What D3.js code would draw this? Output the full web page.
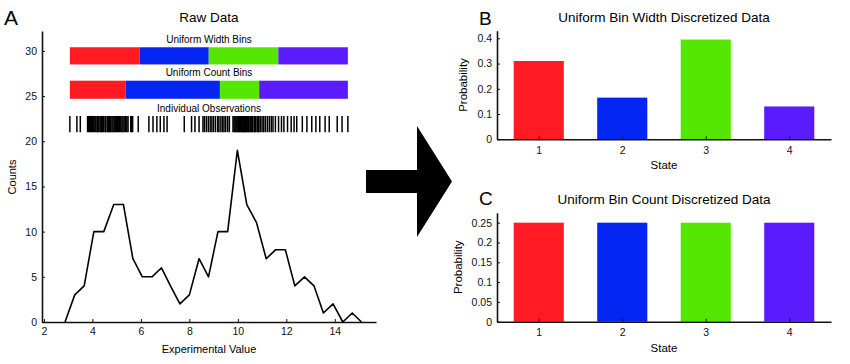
<!DOCTYPE html>
<html>
<head>
<meta charset="utf-8">
<script src="https://cdn.jsdelivr.net/npm/d3@7"></script>
<style>
  body { margin: 0; background: #fff; }
  svg { display: block; font-family: "Liberation Sans", Arial, sans-serif; }
  .axis path, .axis line { stroke: #111; }
  .axis text { fill: #111; font-size: 10.5px; }
</style>
</head>
<body>
<svg class="target"></svg>
<script>
// histogram of the raw data (bin centre, count)
const binCenters = [2.87, 3.27, 3.66, 4.06, 4.47, 4.88, 5.28, 5.67, 6.06, 6.46, 6.85, 7.22,
    7.61, 8.0, 8.4, 8.79, 9.18, 9.58, 9.98, 10.37, 10.77, 11.17, 11.56, 11.96,
    12.35, 12.75, 13.14, 13.53, 13.93, 14.33, 14.72, 15.1];
const counts = [0, 3, 4, 10, 10, 13, 13, 7, 5, 5, 6, 4,
    2, 3, 7, 5, 10, 10, 19, 13, 11, 7, 8, 8,
    4, 5, 4, 1, 2, 0, 1, 0];

// individual observations
const observations = [3.07, 3.36, 3.50,
    3.80, 3.84, 3.88, 3.93, 3.97, 4.01, 4.04, 4.10, 4.14, 4.19, 4.22, 4.25, 4.31, 4.35,
    4.38, 4.41, 4.46, 4.52, 4.55, 4.61, 4.66, 4.70, 4.73, 4.76, 4.81, 4.85, 4.90, 4.94,
    4.99, 5.03, 5.08, 5.12, 5.17, 5.22, 5.26, 5.31, 5.37, 5.42, 5.47, 5.58, 5.62, 5.66, 5.89,
    6.33, 6.50, 6.66, 6.80, 6.95, 7.08,
    7.79, 8.09, 8.23, 8.40,
    8.56, 8.62, 8.70, 8.78, 8.86, 8.93, 9.00, 9.08, 9.17, 9.22, 9.30, 9.37, 9.43, 9.50,
    9.58, 9.65, 9.80, 9.84, 9.88, 9.92, 9.96, 10.0, 10.03, 10.06, 10.10, 10.14, 10.18,
    10.22, 10.25, 10.27, 10.31, 10.34, 10.36, 10.41, 10.44, 10.46, 10.51, 10.56, 10.59,
    10.62, 10.68, 10.71, 10.74, 10.80, 10.84, 10.87, 10.93, 11.00, 11.07, 11.14, 11.22,
    11.30, 11.38, 11.45,
    11.55, 11.68, 11.80, 11.90, 12.05, 12.20, 12.32, 12.43,
    12.66, 12.85, 13.05, 13.22, 13.38, 13.60, 13.77, 14.10, 14.30, 14.54];

// bin edges
const widthEdges = [3.07, 5.94, 8.80, 11.67, 14.54];
const countEdges = [3.07, 5.37, 9.26, 10.88, 14.54];

// discretized probabilities
const states = [1, 2, 3, 4];
const widthProbs = [0.31, 0.165, 0.395, 0.13];
const countProbs = [0.25, 0.25, 0.25, 0.25];
const stateColors = ["#ff1a24", "#0526f2", "#55e600", "#5a1cff"];

const xTicksA = [2, 4, 6, 8, 10, 12, 14];
const yTicksA = [0, 5, 10, 15, 20, 25, 30];
const yTicksB = [0, 0.1, 0.2, 0.3, 0.4];
const yTicksC = [0, 0.05, 0.1, 0.15, 0.2, 0.25];

document.addEventListener("DOMContentLoaded", function() {
    drawFigure();
});

function styleAxis(g) {
    g.selectAll("path").attr("stroke-width", 1.6);
    g.selectAll("line").attr("stroke-width", 1);
}

function drawFigure() {
    const width = 850;
    const height = 364;
    const svg = d3.select(".target")
        .attr("width", width)
        .attr("height", height);

    svg.append("rect").attr("width", width).attr("height", height).attr("fill", "#fff");

    // ---------- panel A ----------
    const xA = d3.scaleLinear().domain([1.92, 15.7]).range([42, 376]);
    const yA = d3.scaleLinear().domain([0, 32.2]).range([322, 31]);

    svg.append("text").attr("x", 4).attr("y", 25).attr("font-size", 21).text("A");
    svg.append("text").attr("x", 209).attr("y", 22).attr("font-size", 13.5)
        .attr("text-anchor", "middle").text("Raw Data");

    svg.append("g").attr("class", "axis")
        .attr("transform", "translate(0," + yA(0) + ")")
        .call(d3.axisBottom(xA).tickValues(xTicksA).tickSizeInner(-3).tickSizeOuter(0).tickPadding(6))
        .call(styleAxis);
    svg.append("g").attr("class", "axis")
        .attr("transform", "translate(" + xA.range()[0] + ",0)")
        .call(d3.axisLeft(yA).tickValues(yTicksA).tickSizeInner(-3).tickSizeOuter(0).tickPadding(5))
        .call(styleAxis);

    svg.append("text").attr("font-size", 11).attr("text-anchor", "middle")
        .attr("transform", "translate(16,177) rotate(-90)").text("Counts");
    svg.append("text").attr("x", 209).attr("y", 353).attr("font-size", 11)
        .attr("text-anchor", "middle").text("Experimental Value");

    // coloured bin strips
    const strips = [
        {label: "Uniform Width Bins", edges: widthEdges, lo: 28.5, hi: 30.4},
        {label: "Uniform Count Bins", edges: countEdges, lo: 24.7, hi: 26.7}
    ];
    strips.forEach(function(s) {
        svg.append("text").attr("x", 209).attr("y", yA(s.hi) - 4.5).attr("font-size", 10)
            .attr("text-anchor", "middle").text(s.label);
        svg.selectAll(null)
            .data(d3.range(4))
            .enter()
            .append("rect")
            .attr("x", i => xA(s.edges[i]))
            .attr("width", i => xA(s.edges[i + 1]) - xA(s.edges[i]))
            .attr("y", yA(s.hi))
            .attr("height", yA(s.lo) - yA(s.hi))
            .attr("fill", i => stateColors[i]);
    });

    svg.append("text").attr("x", 209).attr("y", yA(22.8) - 4).attr("font-size", 10)
        .attr("text-anchor", "middle").text("Individual Observations");
    svg.selectAll(".obs")
        .data(observations)
        .enter()
        .append("line")
        .attr("class", "obs")
        .attr("x1", d => xA(d)).attr("x2", d => xA(d))
        .attr("y1", yA(22.8)).attr("y2", yA(21))
        .attr("stroke", "#000")
        .attr("stroke-width", 1.5);

    const line = d3.line().x((d, i) => xA(binCenters[i])).y(d => yA(d));
    svg.append("path")
        .datum(counts)
        .attr("d", line)
        .attr("fill", "none")
        .attr("stroke", "#000")
        .attr("stroke-width", 1.6)
        .attr("stroke-linejoin", "round");

    // ---------- arrow ----------
    const arrow = [[366, 170], [417, 170], [417, 126], [452, 181.5], [417, 237], [417, 193], [366, 193]];
    svg.append("path")
        .attr("d", d3.line()(arrow) + "Z")
        .attr("fill", "#000");

    // ---------- panels B and C ----------
    const xS = d3.scaleLinear().domain([0.5, 4.5]).range([497, 831]);
    const barW = 0.6;

    const panels = [
        {letter: "B", title: "Uniform Bin Width Discretized Data", probs: widthProbs,
            y: d3.scaleLinear().domain([0, 0.43]).range([139.3, 30.7]), ticks: yTicksB,
            letterY: 25, titleY: 22, ylabX: 467},
        {letter: "C", title: "Uniform Bin Count Discretized Data", probs: countProbs,
            y: d3.scaleLinear().domain([0, 0.275]).range([321.7, 212.8]), ticks: yTicksC,
            letterY: 205, titleY: 204, ylabX: 462}
    ];

    panels.forEach(function(p) {
        svg.append("text").attr("x", 479).attr("y", p.letterY).attr("font-size", 19).text(p.letter);
        svg.append("text").attr("x", 664).attr("y", p.titleY).attr("font-size", 13.5)
            .attr("text-anchor", "middle").text(p.title);

        svg.selectAll(null)
            .data(p.probs)
            .enter()
            .append("rect")
            .attr("x", (d, i) => xS(states[i] - barW / 2))
            .attr("width", xS(barW) - xS(0))
            .attr("y", d => p.y(d))
            .attr("height", d => p.y(0) - p.y(d))
            .attr("fill", (d, i) => stateColors[i]);

        svg.append("g").attr("class", "axis")
            .attr("transform", "translate(0," + p.y(0) + ")")
            .call(d3.axisBottom(xS).tickValues(states).tickFormat(d3.format("d"))
                .tickSizeInner(-3).tickSizeOuter(0).tickPadding(7))
            .call(styleAxis);
        svg.append("g").attr("class", "axis")
            .attr("transform", "translate(" + xS.range()[0] + ",0)")
            .call(d3.axisLeft(p.y).tickValues(p.ticks).tickFormat(d3.format("~g"))
                .tickSizeInner(-3).tickSizeOuter(0).tickPadding(5))
            .call(styleAxis);

        svg.append("text").attr("font-size", 11.5).attr("text-anchor", "middle")
            .attr("transform", "translate(" + p.ylabX + "," + ((p.y.range()[0] + p.y.range()[1]) / 2) + ") rotate(-90)")
            .text("Probability");
        svg.append("text").attr("x", 664).attr("y", p.y(0) + 30).attr("font-size", 11.5)
            .attr("text-anchor", "middle").text("State");
    });
}
</script>
</body>
</html>
